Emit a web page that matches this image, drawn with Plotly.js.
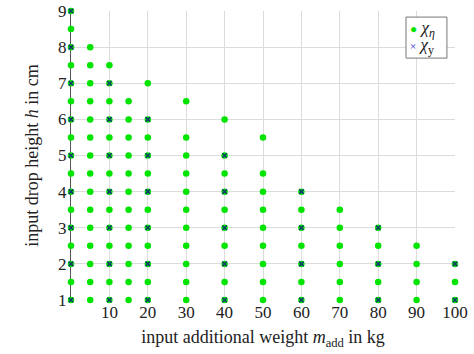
<!DOCTYPE html>
<html>
<head>
<meta charset="utf-8">
<script src="https://cdn.plot.ly/plotly-3.0.1.min.js"></script>
<style>html,body{margin:0;padding:0;background:#fff;}#plot{width:474px;height:354px;}</style>
</head>
<body>
<div id="plot"></div>
<script>
// design weights (kg)
const weights = [0, 5, 10, 15, 20, 30, 40, 50, 60, 70, 80, 90, 100];
// drop heights (cm) sampled for each weight (chi_eta set)
const etaHeights = [
  [1,1.5,2,2.5,3,3.5,4,4.5,5,5.5,6,6.5,7,7.5,8,8.5,9],
  [1,1.5,2,2.5,3,3.5,4,4.5,5,5.5,6,6.5,7,7.5,8],
  [1,1.5,2,2.5,3,3.5,4,4.5,5,5.5,6,6.5,7,7.5],
  [1,1.5,2,2.5,3,3.5,4,4.5,5,5.5,6,6.5],
  [1,1.5,2,2.5,3,3.5,4,4.5,5,5.5,6,7],
  [1,1.5,2,2.5,3,3.5,4,4.5,5,5.5,6.5],
  [1,1.5,2,2.5,3,3.5,4,4.5,5,6],
  [1,1.5,2,2.5,3,3.5,4,4.5,5.5],
  [1,1.5,2,2.5,3,3.5,4],
  [1,1.5,2,2.5,3,3.5],
  [1,1.5,2,2.5,3],
  [1,1.5,2,2.5],
  [1,1.5,2]
];
// chi_y set
const yWeights = [0, 10, 20, 40, 60, 80, 100];
const yHeights = [
  [1,2,3,4,5,6,7,8,9],
  [1,2,3,4,5,6,7],
  [1,2,3,4,5,6],
  [1,2,3,4,5],
  [1,2,3,4],
  [1,2,3],
  [1,2]
];
const xTicks = [10,20,30,40,50,60,70,80,90,100];
const yTicks = [1,2,3,4,5,6,7,8,9];
const seriesNames = ['<i>χ</i><sub><i>η</i></sub>', '<i>χ</i><sub>y</sub>'];
const etaColor = '#00e400', yColor = '#0e3a6e';

const ex = [], ey = [];
weights.forEach((w, i) => etaHeights[i].forEach(h => { ex.push(w); ey.push(h); }));
const yx = [], yy = [];
yWeights.forEach((w, i) => yHeights[i].forEach(h => { yx.push(w); yy.push(h); }));

const serif = 'Liberation Serif';
const traces = [
  {x: ex, y: ey, type: 'scatter', mode: 'markers', name: seriesNames[0],
   cliponaxis: false, showlegend: false,
   marker: {symbol: 'circle', size: 6.5, color: etaColor, line: {width: 0}}},
  {x: yx, y: yy, type: 'scatter', mode: 'markers', name: seriesNames[1],
   cliponaxis: false, showlegend: false,
   marker: {symbol: 'x-thin', size: 4.5, color: yColor, line: {width: 1.5, color: yColor}}}
];
const legendFont = {family: serif, size: 17, color: '#222'};
const layout = {
  width: 474, height: 354,
  margin: {l: 71, r: 19, t: 11, b: 54},
  paper_bgcolor: '#fff', plot_bgcolor: '#fff',
  font: {family: serif, size: 15, color: '#222'},
  showlegend: false,
  shapes: [{type: 'rect', xref: 'paper', yref: 'paper', x0: 0.8724, x1: 0.979, y0: 0.837, y1: 0.979,
    fillcolor: '#fff', line: {color: '#777', width: 1}, layer: 'above'}],
  annotations: [
    {xref: 'paper', yref: 'paper', x: 0.878, y: 0.936, xanchor: 'left', yanchor: 'middle',
     align: 'left', showarrow: false, font: legendFont,
     text: '<span style="color:' + etaColor + ';font-size:12px">●</span>&nbsp;' + seriesNames[0]},
    {xref: 'paper', yref: 'paper', x: 0.878, y: 0.880, xanchor: 'left', yanchor: 'middle',
     align: 'left', showarrow: false, font: legendFont,
     text: '<span style="color:#2a2ad8;font-size:11px">×</span>&nbsp;' + seriesNames[1]}
  ],
  xaxis: {range: [0, 100], tickvals: xTicks, ticktext: xTicks.map(String),
    showgrid: true, gridcolor: '#dcdcdc', gridwidth: 1,
    zeroline: false, showline: false, ticks: '', ticklen: 0,
    tickfont: {family: serif, size: 17, color: '#222'},
    layer: 'below traces',
    title: {text: 'input additional weight <i>m</i><sub>add</sub> in kg', standoff: 9,
      font: {family: serif, size: 18, color: '#222'}}},
  yaxis: {range: [1, 9], tickvals: yTicks, ticktext: yTicks.map(String),
    showgrid: true, gridcolor: '#dcdcdc', gridwidth: 1,
    zeroline: false, showline: true, linecolor: '#555', linewidth: 1.2,
    ticks: '', ticklen: 0,
    tickfont: {family: serif, size: 17, color: '#222'},
    layer: 'below traces',
    title: {text: 'input drop height <i>h</i> in cm', standoff: 14,
      font: {family: serif, size: 18, color: '#222'}}}
};
Plotly.newPlot('plot', traces, layout, {displayModeBar: false, staticPlot: true});
</script>
</body>
</html>
